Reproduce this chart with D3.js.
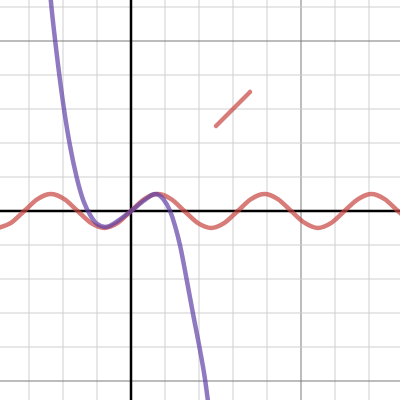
<!DOCTYPE html>
<html><head><meta charset="utf-8">
<script src="https://cdn.jsdelivr.net/npm/d3@7"></script>
<style>body{margin:0;background:#fff}</style></head>
<body><svg id="c" width="400" height="400"></svg>
<script>
// Red wave: [x, y] in graph units
const redX = [-3.93,-3.53,-3.14,-2.75,-2.36,-1.96,-1.57,-1.18,-0.79,-0.39,0,0.39,0.79,1.18,1.57,1.96,2.36,2.75,3.14,3.53,3.93,4.32,4.71,5.11,5.50,5.89,6.28,6.68,7.07,7.46,7.85,8.25];
const redY = [-0.5,-0.35,0,0.35,0.5,0.35,0,-0.35,-0.5,-0.35,0,0.35,0.5,0.35,0,-0.35,-0.5,-0.35,0,0.35,0.5,0.35,0,-0.35,-0.5,-0.35,0,0.35,0.5,0.35,0,-0.35];
const segX = [2.5,3.5];
const segY = [2.5,3.5];
const purX = [-2.42,-2.36,-2.2,-2.0,-1.8,-1.6,-1.4,-1.2,-1.0,-0.76,-0.4,0,0.4,0.71,0.95,1.15,1.3,1.44,1.64,1.82,2.03,2.18,2.26,2.32];
const purY = [6.9,6.21,4.75,3.2,1.95,1.0,0.3,-0.12,-0.38,-0.47,-0.3,0,0.32,0.5,0.35,0,-0.45,-1.0,-2.03,-3.0,-4.1,-4.97,-5.56,-6.0];

const W=400,H=400;
const x=d3.scaleLinear().domain([-131/34,(400-131)/34]).range([0,W]);
const y=d3.scaleLinear().domain([-189/34,211/34]).range([H,0]);
const svg=d3.select("#c");
const minor=d3.range(-3,8), minorY=d3.range(-5,7);
svg.selectAll(".vx").data(minor).join("line").attr("x1",d=>x(d)).attr("x2",d=>x(d)).attr("y1",0).attr("y2",H)
 .attr("stroke",d=>d%5===0?"#7a7a7a":"#cfcfcf").attr("stroke-width",1);
svg.selectAll(".hy").data(minorY).join("line").attr("y1",d=>y(d)).attr("y2",d=>y(d)).attr("x1",0).attr("x2",W)
 .attr("stroke",d=>d%5===0?"#7a7a7a":"#cfcfcf").attr("stroke-width",1);
svg.append("line").attr("x1",x(0)).attr("x2",x(0)).attr("y1",0).attr("y2",H).attr("stroke","#000").attr("stroke-width",2.5);
svg.append("line").attr("y1",y(0)).attr("y2",y(0)).attr("x1",0).attr("x2",W).attr("stroke","#000").attr("stroke-width",2.5);
const line=d3.line().x(d=>x(d[0])).y(d=>y(d[1])).curve(d3.curveMonotoneX);
const draw=(xs,ys,col)=>svg.append("path").datum(xs.map((v,i)=>[v,ys[i]])).attr("d",line)
 .attr("fill","none").attr("stroke",col).attr("stroke-width",4.5).attr("stroke-linecap","round").attr("opacity",0.7);
draw(redX,redY,"#c74440");
draw(segX,segY,"#c74440");
draw(purX,purY,"#6042a6");
</script></body></html>
